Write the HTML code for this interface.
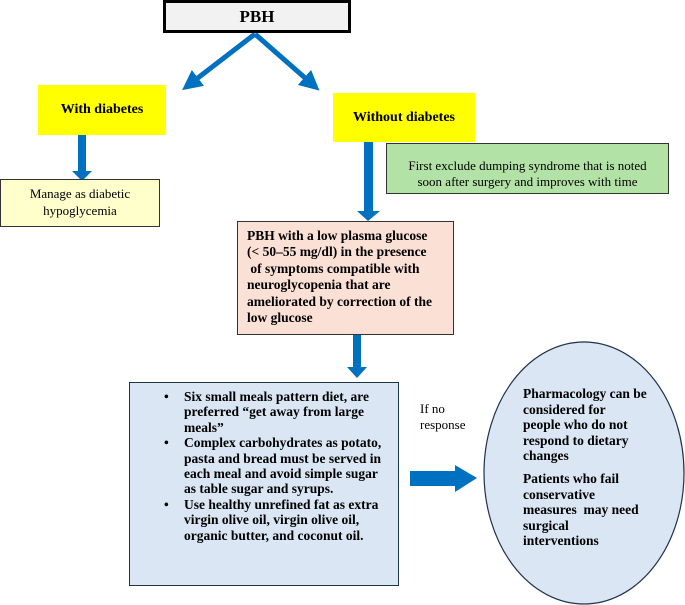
<!DOCTYPE html>
<html><head><meta charset="utf-8"><style>
body{margin:0;width:685px;height:605px;background:#fff;position:relative;overflow:hidden;font-family:"Liberation Serif",serif;}
.b{position:absolute;box-sizing:border-box;}
</style></head><body>
<svg class="b" style="left:0;top:0" width="685" height="605">
<defs><marker id="h" markerWidth="4" markerHeight="4" refX="2" refY="2" orient="auto" markerUnits="strokeWidth"><path d="M0,0 L4,2 L0,4 Z" fill="#0070c0"/></marker></defs>
<line x1="255" y1="34" x2="190" y2="84" stroke="#0070c0" stroke-width="5" marker-end="url(#h)"/>
<line x1="255" y1="34" x2="312" y2="84" stroke="#0070c0" stroke-width="5" marker-end="url(#h)"/>
<rect x="78" y="135" width="8" height="36" fill="#0070c0"/><polygon points="72,171 92,171 82,181" fill="#0070c0"/>
<rect x="364" y="142" width="9" height="70" fill="#0070c0"/><polygon points="357,211 380,211 368,221" fill="#0070c0"/>
<rect x="353" y="335" width="8" height="32" fill="#0070c0"/><polygon points="347,367 367,367 357,378" fill="#0070c0"/>
<rect x="410" y="471" width="46" height="15" fill="#0070c0"/><polygon points="455,465 477,478 455,492" fill="#0070c0"/>
<ellipse cx="584" cy="473" rx="100" ry="131" fill="#dae6f3" stroke="#1f3349" stroke-width="1.2"/>
</svg>
<div class="b" style="left:163px;top:0;width:188px;height:33px;background:#f2f2f2;border:3px solid #000;text-align:center;font-weight:bold;font-size:17px;line-height:27px;">PBH</div>
<div class="b" style="left:38px;top:85px;width:128px;height:50px;background:#ffff00;text-align:center;font-weight:bold;font-size:14px;line-height:50px;">With diabetes</div>
<div class="b" style="left:333px;top:93px;width:142px;height:49px;background:#ffff00;text-align:center;font-weight:bold;font-size:14px;line-height:49px;">Without diabetes</div>
<div class="b" style="left:386px;top:143px;width:283px;height:51px;background:#b3e2a6;border:1px solid #333;text-align:center;font-size:13px;line-height:16px;padding-top:14px;white-space:nowrap;">First exclude dumping syndrome that is noted<br>soon after surgery and improves with time</div>
<div class="b" style="left:0;top:179px;width:160px;height:48px;background:#ffffcc;border:1px solid #333;text-align:center;font-size:13px;line-height:17px;padding-top:5px;">Manage as diabetic<br>hypoglycemia</div>
<div class="b" style="left:237px;top:221px;width:217px;height:114px;background:#fbe0d5;border:1px solid #333;font-weight:bold;font-size:13.5px;line-height:16.4px;padding:6px 0 0 9px;white-space:nowrap;">PBH with a low plasma glucose<br>(&lt; 50–55 mg/dl) in the presence<br>&nbsp;of symptoms compatible with<br>neuroglycopenia that are<br>ameliorated by correction of the<br>low glucose</div>
<div class="b" style="left:129px;top:382px;width:270px;height:204px;background:#dae6f3;border:1px solid #1f3349;font-weight:bold;font-size:13.5px;line-height:15.4px;padding:6px 0 0 0;white-space:nowrap;">
<div style="position:relative;padding-left:54px;"><span style="position:absolute;left:34px;">•</span>Six small meals pattern diet, are<br>preferred “get away from large<br>meals”</div>
<div style="position:relative;padding-left:54px;"><span style="position:absolute;left:34px;">•</span>Complex carbohydrates as potato,<br>pasta and bread must be served in<br>each meal and avoid simple sugar<br>as table sugar and syrups.</div>
<div style="position:relative;padding-left:54px;"><span style="position:absolute;left:34px;">•</span>Use healthy unrefined fat as extra<br>virgin olive oil, virgin olive oil,<br>organic butter, and coconut oil.</div>
</div>
<div class="b" style="left:420px;top:401px;font-size:13px;line-height:16px;">If no<br>response</div>
<div class="b" style="left:523px;top:386px;width:160px;font-weight:bold;font-size:13.5px;line-height:15.6px;white-space:nowrap;">Pharmacology can be<br>considered for<br>people who do not<br>respond to dietary<br>changes<div style="height:7px"></div>Patients who fail<br>conservative<br>measures &nbsp;may need<br>surgical<br>interventions</div>
</body></html>
